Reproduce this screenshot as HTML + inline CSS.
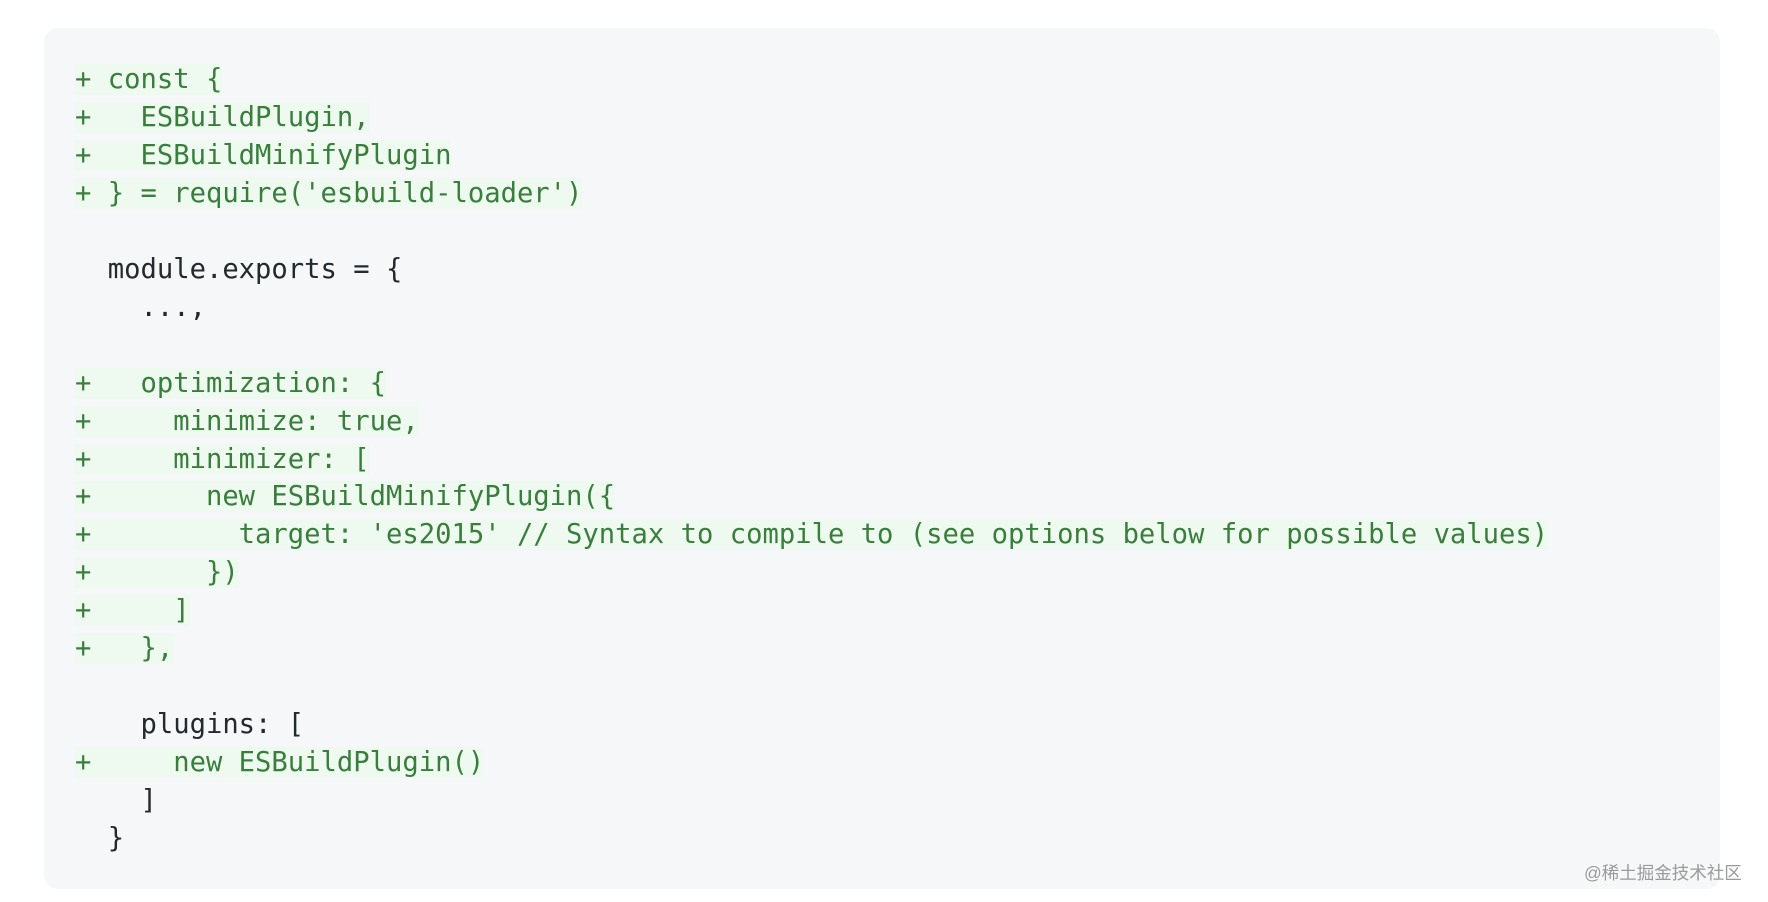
<!DOCTYPE html>
<html><head><meta charset="utf-8"><style>
html,body{margin:0;padding:0;background:#fff;width:1768px;height:902px;overflow:hidden;}
.box{position:absolute;left:44px;top:28px;width:1676px;height:861px;background:#f6f7f9;border-radius:14px;}
pre{position:absolute;left:75px;top:61px;margin:0;font-family:"DejaVu Sans Mono","Liberation Mono",monospace;font-size:27.2px;line-height:37.95px;color:#24292e;}
.a{color:#3a7e3d;background:#eefaef;}
.wm{position:absolute;left:1584px;top:860px;font-family:"Liberation Sans","Noto Sans CJK SC",sans-serif;font-size:17.5px;color:#9a9a9a;}
</style></head><body>
<div class="box"></div>
<pre><span class="a">+ const {</span>
<span class="a">+   ESBuildPlugin,</span>
<span class="a">+   ESBuildMinifyPlugin</span>
<span class="a">+ } = require('esbuild-loader')</span>

  module.exports = {
    ...,

<span class="a">+   optimization: {</span>
<span class="a">+     minimize: true,</span>
<span class="a">+     minimizer: [</span>
<span class="a">+       new ESBuildMinifyPlugin({</span>
<span class="a">+         target: 'es2015' // Syntax to compile to (see options below for possible values)</span>
<span class="a">+       })</span>
<span class="a">+     ]</span>
<span class="a">+   },</span>

    plugins: [
<span class="a">+     new ESBuildPlugin()</span>
    ]
  }</pre>
<div class="wm">@稀土掘金技术社区</div>
</body></html>
